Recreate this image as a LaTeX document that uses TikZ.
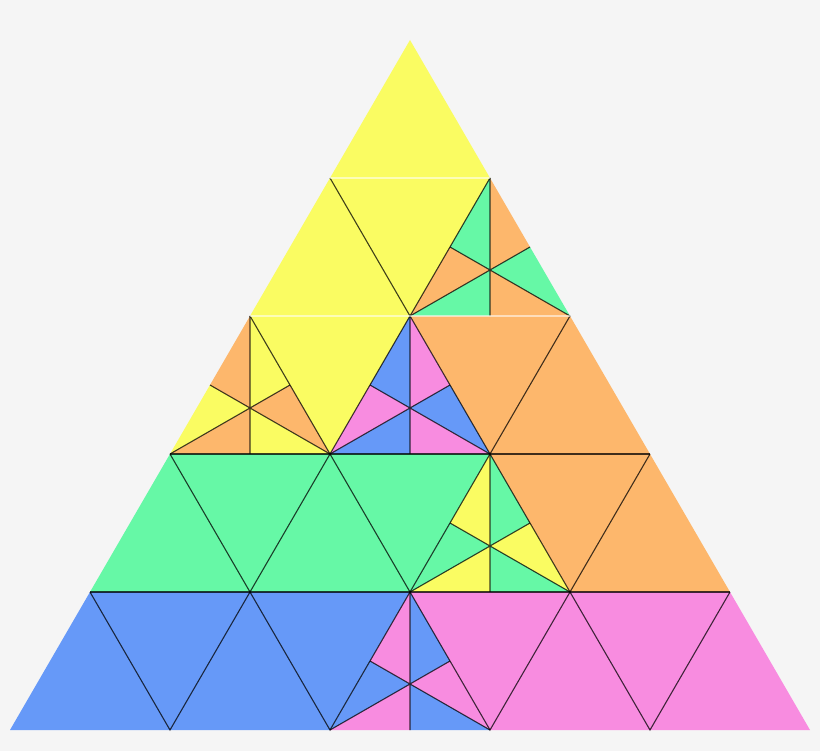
\documentclass[tikz,border=0pt]{standalone}
\definecolor{bg}{RGB}{245,245,245}
\definecolor{cy}{RGB}{250,252,98}
\definecolor{cg}{RGB}{102,248,166}
\definecolor{co}{RGB}{253,183,108}
\definecolor{cb}{RGB}{102,153,248}
\definecolor{cp}{RGB}{248,140,224}
\tikzset{
  edge/.style={draw=black,draw opacity=0.75,line width=1.1pt},
  seam/.style={draw=white,draw opacity=0.55,line width=1.1pt}
}
\newcommand\subtri[4]{%
  \begin{scope}[shift={(#1,#2)}]
    \fill[#3] (0,0) -- (40,69) -- (0,92) -- cycle;
    \fill[#4] (40,69) -- (80,138) -- (0,92) -- cycle;
    \fill[#3] (80,138) -- (0,138) -- (0,92) -- cycle;
    \fill[#4] (0,138) -- (-80,138) -- (0,92) -- cycle;
    \fill[#3] (-80,138) -- (-40,69) -- (0,92) -- cycle;
    \fill[#4] (-40,69) -- (0,0) -- (0,92) -- cycle;
    \draw[edge] (0,0) -- (0,138) (-80,138) -- (40,69) (80,138) -- (-40,69);
  \end{scope}}
\begin{document}
\begin{tikzpicture}[x=1pt,y=-1pt]
  \fill[bg] (0,0) rectangle (820,751);
  \useasboundingbox (0,0) rectangle (820,751);
  % row 1
  \fill[cy] (410,40) -- (490,178) -- (330,178) -- cycle;
  % row 2
  \fill[cy] (330,178) -- (490,178) -- (410,316) -- (250,316) -- cycle;
  \subtri{490}{178}{co}{cg}
  % row 3
  \fill[cy] (250,316) -- (410,316) -- (330,454) -- cycle;
  \fill[co] (410,316) -- (570,316) -- (650,454) -- (490,454) -- cycle;
  \subtri{250}{316}{cy}{co}
  \subtri{410}{316}{cp}{cb}
  % row 4
  \fill[cg] (170,454) -- (490,454) -- (410,592) -- (90,592) -- cycle;
  \fill[co] (490,454) -- (650,454) -- (730,592) -- (570,592) -- cycle;
  \subtri{490}{454}{cg}{cy}
  % row 5
  \fill[cb] (90,592) -- (410,592) -- (330,730) -- (10,730) -- cycle;
  \fill[cp] (410,592) -- (730,592) -- (810,730) -- (490,730) -- cycle;
  \subtri{410}{592}{cb}{cp}
  % internal diagonal edges
  \draw[edge] (330,178) -- (410,316) -- (490,178);
  \draw[edge] (250,316) -- (330,454) -- (410,316) -- (490,454) -- (570,316);
  \draw[edge] (170,454) -- (250,592) -- (330,454) -- (410,592) -- (490,454) -- (570,592) -- (650,454);
  \draw[edge] (90,592) -- (170,730) -- (250,592) -- (330,730) -- (410,592) -- (490,730) -- (570,592) -- (650,730) -- (730,592);
  % horizontal edges
  \draw[edge] (170,454) -- (650,454);
  \draw[edge] (90,592) -- (730,592);
  \draw[seam] (330,178) -- (490,178);
  \draw[seam] (250,316) -- (570,316);
\end{tikzpicture}
\end{document}
